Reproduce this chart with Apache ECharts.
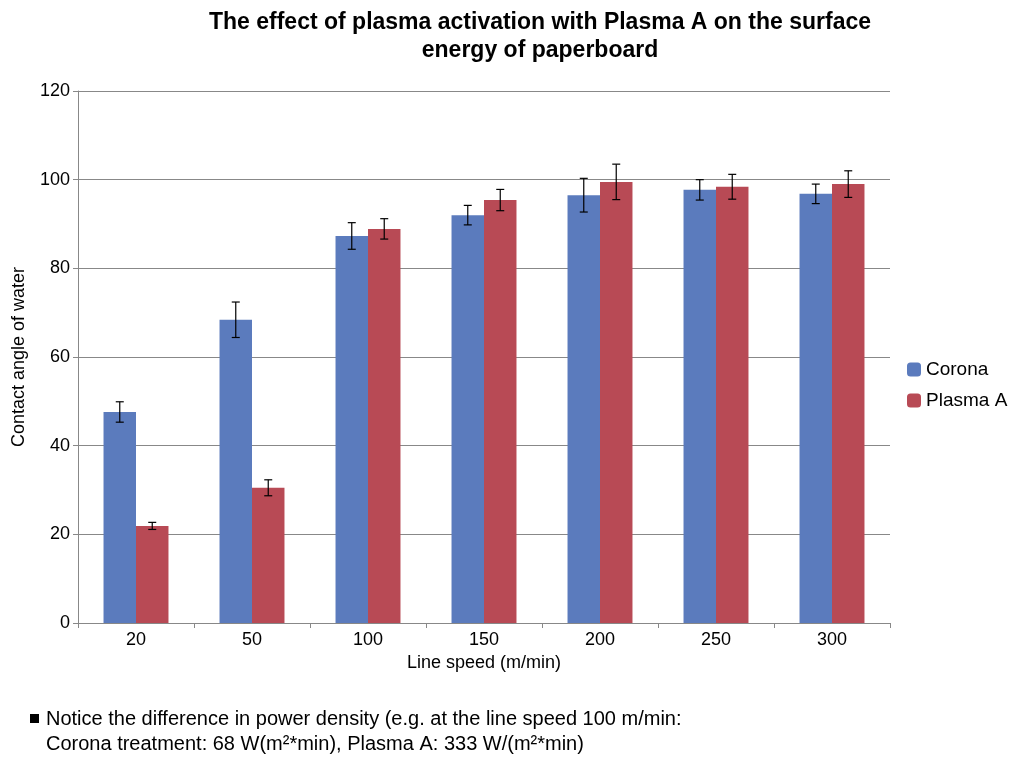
<!DOCTYPE html>
<html><head><meta charset="utf-8">
<script src="https://cdn.jsdelivr.net/npm/echarts@6/dist/echarts.min.js"></script>
<style>html,body{margin:0;padding:0;background:#fff}#c{width:1024px;height:765px}</style>
</head><body><div id="c"></div>
<script>
const categories = ['20','50','100','150','200','250','300'];
const corona = [47.6, 68.4, 87.3, 92.0, 96.5, 97.7, 96.8];
const coronaErr = [2.3, 4.0, 3.0, 2.2, 3.8, 2.3, 2.2];
const plasma = [21.9, 30.5, 88.9, 95.4, 99.5, 98.4, 99.0];
const plasmaErr = [0.8, 1.8, 2.3, 2.4, 4.0, 2.8, 3.0];
const yTicks = [0, 20, 40, 60, 80, 100, 120];

const chart = echarts.init(document.getElementById('c'));
function errSeries(vals, errs, idx) {
  return {
    type: 'custom', z: 10,
    data: vals.map((v, i) => [i, v - errs[i], v + errs[i]]),
    renderItem: function (params, api) {
      const lo = api.coord([api.value(0), api.value(1)]);
      const hi = api.coord([api.value(0), api.value(2)]);
      const band = api.size([1, 0])[0];
      const barW = band * 0.28;
      const off = (idx === 0 ? -1 : 1) * barW / 2;
      const x = lo[0] + off, w = 4;
      const st = { stroke: '#000', lineWidth: 1.2 };
      return { type: 'group', children: [
        { type: 'line', shape: { x1: x, y1: lo[1], x2: x, y2: hi[1] }, style: st },
        { type: 'line', shape: { x1: x - w, y1: lo[1], x2: x + w, y2: lo[1] }, style: st },
        { type: 'line', shape: { x1: x - w, y1: hi[1], x2: x + w, y2: hi[1] }, style: st }
      ]};
    }
  };
}
chart.setOption({
  animation: false,
  title: {
    text: 'The effect of plasma activation with Plasma A on the surface\nenergy of paperboard',
    left: 535, top: 4, textAlign: 'center',
    textStyle: { fontFamily: 'Liberation Sans', fontWeight: 'bold', fontSize: 23, lineHeight: 28, color: '#000' }
  },
  grid: { left: 78, right: 134, top: 91, bottom: 142 },
  legend: {
    orient: 'vertical', left: 902, top: 355, itemGap: 12,
    itemWidth: 14, itemHeight: 14,
    textStyle: { fontFamily: 'Liberation Sans', fontSize: 19, color: '#000' },
    data: ['Corona', 'Plasma A']
  },
  xAxis: {
    type: 'category', data: categories,
    name: 'Line speed (m/min)', nameLocation: 'middle', nameGap: 24,
    nameTextStyle: { fontFamily: 'Liberation Sans', fontSize: 18, color: '#000' },
    axisLine: { lineStyle: { color: '#888' } },
    axisTick: { show: true, alignWithLabel: false, lineStyle: { color: '#888' } },
    axisLabel: { fontFamily: 'Liberation Sans', fontSize: 18, color: '#000' }
  },
  yAxis: {
    type: 'value', min: 0, max: 120, interval: 20,
    name: 'Contact angle of water', nameLocation: 'middle', nameGap: 50,
    nameTextStyle: { fontFamily: 'Liberation Sans', fontSize: 18, color: '#000' },
    axisLine: { show: true, lineStyle: { color: '#888' } },
    axisTick: { show: true, lineStyle: { color: '#888' } },
    axisLabel: { fontFamily: 'Liberation Sans', fontSize: 18, color: '#000', formatter: v => yTicks.includes(v) ? String(v) : '' },
    splitLine: { lineStyle: { color: '#888' } }
  },
  series: [
    { name: 'Corona', type: 'bar', data: corona, barWidth: '28%', barGap: '0%', itemStyle: { color: '#5b7bbd' } },
    { name: 'Plasma A', type: 'bar', data: plasma, barWidth: '28%', itemStyle: { color: '#b84a55' } },
    errSeries(corona, coronaErr, 0),
    errSeries(plasma, plasmaErr, 1)
  ],
  graphic: [
    { type: 'rect', left: 30, top: 714, shape: { width: 9, height: 9 }, style: { fill: '#000' } },
    { type: 'text', left: 46, top: 707, style: {
      text: 'Notice the difference in power density (e.g. at the line speed 100 m/min:\nCorona treatment: 68 W(m²*min), Plasma A: 333 W/(m²*min)',
      fontFamily: 'Liberation Sans', fontSize: 20, lineHeight: 25, fill: '#000' } }
  ]
});
</script></body></html>
